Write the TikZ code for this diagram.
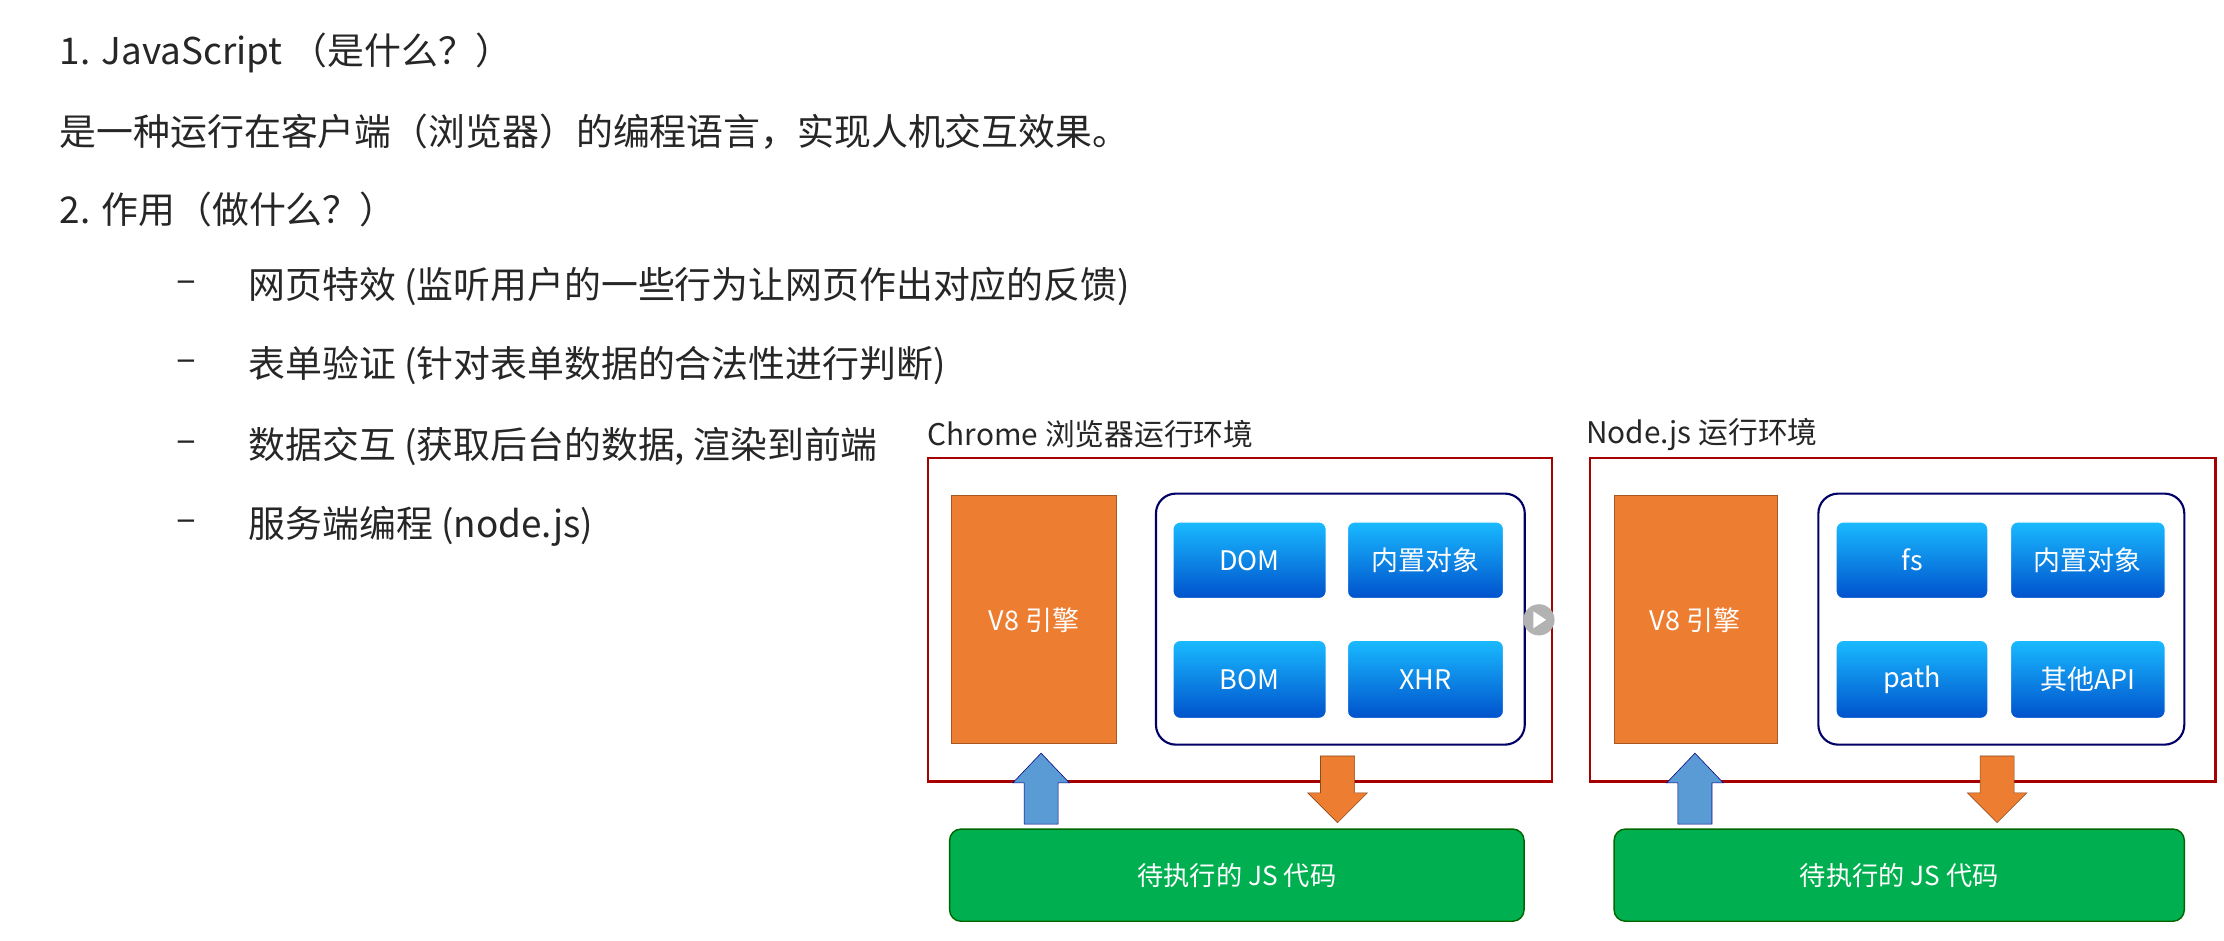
\documentclass[tikz,border=0pt]{standalone}
\usepackage{fontspec}
\setmainfont{Noto Sans CJK SC}
\definecolor{orng}{HTML}{ED7D31}
\definecolor{grn}{HTML}{00B050}
\definecolor{upb}{HTML}{5B9BD5}
\begin{document}
\begin{tikzpicture}[x=1pt,y=-1pt,
  txt/.style={anchor=west,inner sep=0pt,font=\fontsize{26}{30}\selectfont,text=black!85},
  env/.style={draw=red!65!black,line width=1.5pt},
  eng/.style={fill=orng,draw=orng!70!black,line width=0.4pt},
  grp/.style={draw=blue!40!black,line width=1.5pt,rounded corners=14pt},
  btn/.style={rounded corners=5pt,top color=cyan!70!blue!90,bottom color=blue!60!cyan!80!black,draw=white,line width=0.8pt,text=white,font=\fontsize{19}{22}\selectfont},
  code/.style={fill=grn,draw=green!40!black,line width=1pt,rounded corners=8pt,text=white,font=\fontsize{18.5}{22}\selectfont},
  title/.style={anchor=west,inner sep=0pt,font=\fontsize{21}{24}\selectfont,text=black!85},
  uparr/.style={fill=upb,draw=blue!50!black,line width=0.4pt},
  dnarr/.style={fill=orng,draw=orng!60!black,line width=0.4pt}]
\useasboundingbox[fill=white] (0,0) rectangle (1568,663);
\node[txt] (t1) at (42,37) {1. JavaScript （是什么？）};
\node[txt] (t2) at (42,93) {是一种运行在客户端（浏览器）的编程语言，实现人机交互效果。};
\node[txt] (t3) at (42,148) {2. 作用（做什么？）};
\foreach \y/\s [count=\i] in {202/{网页特效 (监听用户的一些行为让网页作出对应的反馈)},258/{表单验证 (针对表单数据的合法性进行判断)},315/{数据交互 (获取后台的数据, 渲染到前端},371/{服务端编程 (node.js)}}{
  \node[txt] (d\i) at (124,\y) {–};
  \node[txt] (b\i) at (175,\y) {\s};
}
% Chrome
\node[title] (ct) at (654,306) {Chrome 浏览器运行环境};
\draw[env] (654,323) rectangle (1094,551);
\draw[eng] (671,349) rectangle (787,524);
\node[text=white,font=\fontsize{19}{22}\selectfont] (cv8) at (729,437) {V8 引擎};
\draw[grp] (815,348) rectangle (1075,525);
\node[btn,minimum width=108pt,minimum height=54pt] (dom) at (881,395) {DOM};
\node[btn,minimum width=110pt,minimum height=54pt] (cbi) at (1005,395) {内置对象};
\node[btn,minimum width=108pt,minimum height=55pt] (bom) at (881,479) {BOM};
\node[btn,minimum width=110pt,minimum height=55pt] (xhr) at (1005,479) {XHR};
\draw[uparr] (722,581) -- (722,552) -- (714,552) -- (734,531) -- (754,552) -- (746,552) -- (746,581) -- cycle;
\draw[dnarr] (931,533) -- (955,533) -- (955,559) -- (964,559) -- (943,580) -- (922,559) -- (931,559) -- cycle;
\node[code,minimum width=405pt,minimum height=65pt] (cc) at (872,617) {待执行的 JS 代码};
\fill[gray!60] (1085,437) circle (11);
\fill[white] (1081,431) -- (1081,443) -- (1090,437) -- cycle;
% Node
\node[title] (nt) at (1118,306) {Node.js 运行环境};
\draw[env] (1121,323) rectangle (1562,551);
\draw[eng] (1138,349) rectangle (1253,524);
\node[text=white,font=\fontsize{19}{22}\selectfont] (nv8) at (1195,437) {V8 引擎};
\draw[grp] (1282,348) rectangle (1540,525);
\node[btn,minimum width=107pt,minimum height=54pt] (fs) at (1348,395) {fs};
\node[btn,minimum width=109pt,minimum height=54pt] (nbi) at (1472,395) {内置对象};
\node[btn,minimum width=107pt,minimum height=55pt] (path) at (1348,479) {path};
\node[btn,minimum width=109pt,minimum height=55pt] (api) at (1472,479) {其他API};
\draw[uparr] (1183,581) -- (1183,552) -- (1175,552) -- (1195,531) -- (1215,552) -- (1207,552) -- (1207,581) -- cycle;
\draw[dnarr] (1396,533) -- (1420,533) -- (1420,559) -- (1429,559) -- (1408,580) -- (1387,559) -- (1396,559) -- cycle;
\node[code,minimum width=402pt,minimum height=65pt] (nc) at (1339,617) {待执行的 JS 代码};
\end{tikzpicture}
\end{document}
